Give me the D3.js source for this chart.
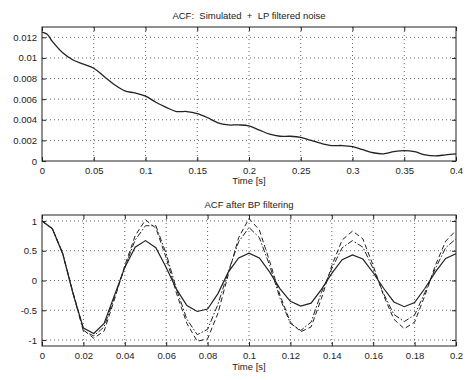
<!DOCTYPE html>
<html><head><meta charset="utf-8">
<script src="https://cdn.jsdelivr.net/npm/d3@7"></script>
<style>
body{margin:0;background:#fff;}
svg{display:block;font-family:"Liberation Sans",Arial,sans-serif;}
</style></head>
<body><svg id="c" width="474" height="380"></svg>
<script>
// ---- Data ----
const topTitle = "ACF:  Simulated  +  LP filtered noise";
const botTitle = "ACF after BP filtering";
const xLabel = "Time [s]";

const topT = [0,0.005,0.01,0.02,0.03,0.04,0.05,0.06,0.07,0.08,0.09,0.10,0.11,0.12,0.13,0.14,0.15,0.16,0.17,0.18,0.19,0.20,0.21,0.22,0.23,0.24,0.25,0.26,0.27,0.28,0.29,0.30,0.31,0.32,0.33,0.34,0.35,0.36,0.37,0.38,0.39,0.40];
const topV = [0.0125,0.0123,0.0116,0.0105,0.0098,0.0094,0.0090,0.0082,0.0074,0.0068,0.0066,0.0063,0.0057,0.0052,0.0048,0.0048,0.0046,0.0042,0.0037,0.0035,0.0035,0.0034,0.0030,0.0026,0.0024,0.0024,0.0023,0.0020,0.0017,0.0015,0.0015,0.0014,0.0011,0.0008,0.0007,0.0009,0.0010,0.0009,0.0006,0.0005,0.0006,0.0007];
const topXTicks = [0,0.05,0.1,0.15,0.2,0.25,0.3,0.35,0.4];
const topYTicks = [0,0.002,0.004,0.006,0.008,0.01,0.012];

const botT = [0,0.005,0.01,0.015,0.02,0.025,0.03,0.035,0.04,0.045,0.05,0.055,0.06,0.065,0.07,0.075,0.08,0.085,0.09,0.095,0.1,0.105,0.11,0.115,0.12,0.125,0.13,0.135,0.14,0.145,0.15,0.155,0.16,0.165,0.17,0.175,0.18,0.185,0.19,0.195,0.2];
const solidV = [1.00,0.87,0.45,-0.22,-0.80,-0.89,-0.72,-0.25,0.22,0.56,0.67,0.55,0.22,-0.15,-0.42,-0.52,-0.48,-0.22,0.14,0.38,0.46,0.38,0.14,-0.14,-0.35,-0.43,-0.38,-0.15,0.12,0.35,0.43,0.36,0.13,-0.13,-0.36,-0.44,-0.37,-0.13,0.14,0.37,0.45];
const dash1V = [1.00,0.87,0.46,-0.20,-0.83,-0.97,-0.85,-0.32,0.25,0.75,1.02,0.88,0.38,-0.22,-0.72,-1.02,-0.98,-0.55,0.10,0.72,1.04,0.85,0.32,-0.25,-0.70,-0.86,-0.78,-0.30,0.25,0.68,0.83,0.70,0.25,-0.25,-0.65,-0.81,-0.70,-0.25,0.25,0.66,0.84];
const dash2V = [1.00,0.87,0.45,-0.22,-0.85,-0.93,-0.78,-0.28,0.22,0.68,0.92,0.92,0.45,-0.15,-0.65,-0.91,-0.82,-0.40,0.15,0.65,0.89,0.72,0.25,-0.30,-0.72,-0.84,-0.70,-0.20,0.20,0.55,0.67,0.56,0.20,-0.22,-0.57,-0.69,-0.58,-0.20,0.20,0.55,0.70];
const botXTicks = [0,0.02,0.04,0.06,0.08,0.1,0.12,0.14,0.16,0.18,0.2];
const botYTicks = [-1,-0.5,0,0.5,1];

// ---- Drawing ----
const svg = d3.select("#c");
const FS = 9.5;

function panel(cfg){
  const {left,right,top,bottom,xDom,yDom,xTicks,yTicks,xFmt,yFmt,title,titleY,labelY} = cfg;
  const x = d3.scaleLinear().domain(xDom).range([left,right]);
  const y = d3.scaleLinear().domain(yDom).range([bottom,top]);
  const g = svg.append("g");
  // grid
  g.append("g").selectAll("line").data(xTicks.slice(1,-1)).join("line")
    .attr("x1",d=>x(d)).attr("x2",d=>x(d)).attr("y1",top).attr("y2",bottom)
    .attr("stroke","#555").attr("stroke-width",0.9).attr("stroke-dasharray","1,3");
  g.append("g").selectAll("line").data(yTicks.filter(d=>y(d)>top+1&&y(d)<bottom-1)).join("line")
    .attr("y1",d=>y(d)).attr("y2",d=>y(d)).attr("x1",left).attr("x2",right)
    .attr("stroke","#555").attr("stroke-width",0.9).attr("stroke-dasharray","1,3");
  // axes (inward ticks, matlab style)
  const ax = g.append("g").attr("transform",`translate(0,${bottom})`)
    .call(d3.axisBottom(x).tickValues(xTicks).tickFormat(xFmt).tickSizeInner(-4).tickSizeOuter(0).tickPadding(6));
  const axT = g.append("g").attr("transform",`translate(0,${top})`)
    .call(d3.axisTop(x).tickValues(xTicks).tickFormat("").tickSizeInner(-4).tickSizeOuter(0));
  const ay = g.append("g").attr("transform",`translate(${left},0)`)
    .call(d3.axisLeft(y).tickValues(yTicks).tickFormat(yFmt).tickSizeInner(-4).tickSizeOuter(0).tickPadding(5));
  const ayR = g.append("g").attr("transform",`translate(${right},0)`)
    .call(d3.axisRight(y).tickValues(yTicks).tickFormat("").tickSizeInner(-4).tickSizeOuter(0));
  [ax,axT,ay,ayR].forEach(a=>{
    a.selectAll(".domain").remove();
    a.selectAll("line").attr("stroke","#222").attr("stroke-width",1);
    a.selectAll("text").attr("font-size",FS).attr("fill","#222").attr("font-family","Liberation Sans, Arial, sans-serif");
  });
  // frame
  g.append("rect").attr("x",left).attr("y",top).attr("width",right-left).attr("height",bottom-top)
    .attr("fill","none").attr("stroke","#222").attr("stroke-width",1);
  g.append("text").attr("x",(left+right)/2).attr("y",titleY).attr("text-anchor","middle")
    .attr("font-size",FS).attr("fill","#222").attr("xml:space","preserve").style("white-space","pre").text(title);
  g.append("text").attr("x",(left+right)/2).attr("y",labelY).attr("text-anchor","middle")
    .attr("font-size",FS).attr("fill","#222").text(xLabel);
  return {x,y,g};
}

const fmt = d=>d===0?"0":String(d);

const P1 = panel({left:42,right:456,top:27,bottom:161,xDom:[0,0.4],yDom:[0,0.013],
  xTicks:topXTicks,yTicks:topYTicks,xFmt:fmt,yFmt:fmt,title:topTitle,titleY:19,labelY:184});
const line1 = d3.line().x((d,i)=>P1.x(topT[i])).y(d=>P1.y(d)).curve(d3.curveCatmullRom.alpha(0.5));
P1.g.append("path").attr("d",line1(topV)).attr("fill","none").attr("stroke","#222").attr("stroke-width",1.3);

const P2 = panel({left:42,right:456,top:215,bottom:346,xDom:[0,0.2],yDom:[-1.1,1.1],
  xTicks:botXTicks,yTicks:botYTicks,xFmt:fmt,yFmt:fmt,title:botTitle,titleY:208,labelY:370});
const line2 = d3.line().x((d,i)=>P2.x(botT[i])).y(d=>P2.y(d));
P2.g.append("path").attr("d",line2(dash2V)).attr("fill","none").attr("stroke","#222").attr("stroke-width",1).attr("stroke-dasharray","6,2,1.5,2");
P2.g.append("path").attr("d",line2(dash1V)).attr("fill","none").attr("stroke","#222").attr("stroke-width",1).attr("stroke-dasharray","5,3");
P2.g.append("path").attr("d",line2(solidV)).attr("fill","none").attr("stroke","#222").attr("stroke-width",1.2);
</script></body></html>
